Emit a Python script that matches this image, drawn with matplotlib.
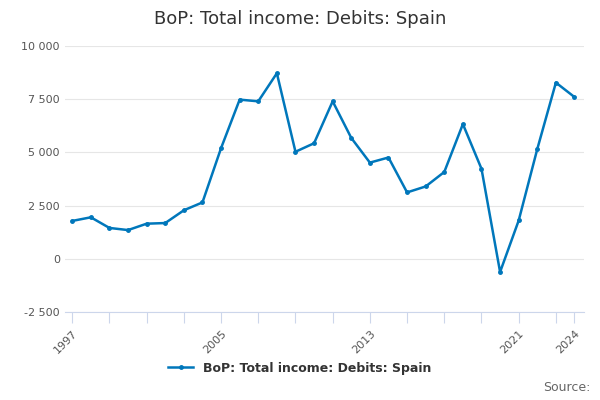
import matplotlib
matplotlib.use("Agg")
import matplotlib.pyplot as plt
from matplotlib.ticker import FuncFormatter

years = list(range(1997, 2025))
values = [1780, 1950, 1450, 1350, 1650, 1680, 2280, 2650, 5200, 7480, 7400, 8720,
          5030, 5430, 7400, 5680, 4520, 4760, 3120, 3400, 4080, 6330, 4230, -620,
          1800, 5160, 8280, 7600]
label_years = [1997, 2005, 2013, 2021, 2024]
color = "#0077bb"

fig = plt.figure(figsize=(6, 4), dpi=100)
ax = fig.add_axes([0.108, 0.22, 0.865, 0.665])
ax.plot(years, values, color=color, lw=1.8, marker="o", ms=2.5)
ax.set_ylim(-2500, 10000)
ax.set_yticks(range(-2500, 10001, 2500))
ax.yaxis.set_major_formatter(FuncFormatter(lambda v, p: f"{int(v):,}".replace(",", " ")))
ax.set_xlim(1996.6, 2024.5)
ax.set_xticks(list(range(1997, 2025, 2)) + [2024])
ax.set_xticklabels([str(y) if y in label_years else "" for y in list(range(1997, 2025, 2)) + [2024]],
                   rotation=45, ha="right", rotation_mode="anchor")
ax.grid(axis="y", color="#e6e6e6", lw=0.8)
for s in ["top", "right", "left"]:
    ax.spines[s].set_visible(False)
ax.spines["bottom"].set_color("#ccd6eb")
ax.tick_params(axis="y", length=0, labelsize=8, colors="#555555")
ax.tick_params(axis="x", length=8, color="#ccd6eb", labelsize=8, colors="#555555")
fig.suptitle("BoP: Total income: Debits: Spain", y=0.975, fontsize=13, color="#333333")
fig.legend(["BoP: Total income: Debits: Spain"], loc="lower center", bbox_to_anchor=(0.5, 0.035),
           frameon=False, prop={"weight": "bold", "size": 9}, labelcolor="#333333")
fig.text(0.985, 0.015, "Source:", ha="right", va="bottom", fontsize=9, color="#666666")
fig.savefig("out.png")
